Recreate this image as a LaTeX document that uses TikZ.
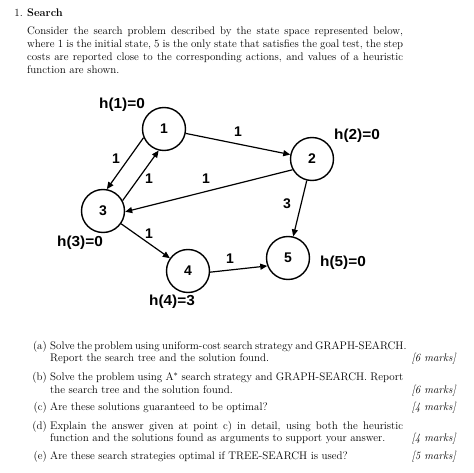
\documentclass[tikz,border=0pt]{standalone}
\usepackage{fontspec}
\usepackage{graphicx}
\newfontfamily\arial{Liberation Sans}
\usetikzlibrary{arrows.meta}
\begin{document}
\begin{tikzpicture}[x=1pt,y=-1pt,
  state/.style={circle, draw, line width=1.4pt, minimum size=43pt, inner sep=0pt,
    font=\arial\bfseries\fontsize{14}{14}\selectfont},
  edge/.style={line width=1.2pt, -{Triangle[length=7pt,width=6pt]}},
  hlab/.style={font=\arial\bfseries\fontsize{14.5}{14.5}\selectfont, inner sep=0pt},
  clab/.style={font=\arial\bfseries\fontsize{14}{14}\selectfont, inner sep=0pt},
  txt/.style={anchor=base west, inner sep=0pt, font=\fontsize{11}{13}\selectfont},
  lbl/.style={anchor=base east, inner sep=0pt, font=\fontsize{11}{13}\selectfont},
  mk/.style={anchor=base east, inner sep=0pt, font=\fontsize{11}{13}\selectfont\itshape}]
\useasboundingbox (0,0) rectangle (474,473);
% heading and intro
\node[lbl] (num) at (23,16.5) {1.};
\node[txt, font=\fontsize{11}{13}\selectfont\bfseries] (head) at (27,16.5) {Search};
\node[txt] (p1) at (27,35) {\makebox[376pt][s]{Consider the search problem described by the state space represented below,}};
\node[txt] (p2) at (27,48) {\makebox[376pt][s]{where 1 is the initial state, 5 is the only state that satisfies the goal test, the step}};
\node[txt] (p3) at (27,61) {\makebox[376pt][s]{costs are reported close to the corresponding actions, and values of a heuristic}};
\node[txt] (p4) at (27,74) {function are shown.};
% graph
\node[state] (n1) at (164,129) {1};
\node[state] (n2) at (312,159) {2};
\node[state] (n3) at (103,211) {3};
\node[state] (n4) at (188,271) {4};
\node[state] (n5) at (288,258) {5};
\draw[edge] (n1.203) -- (n3.80);
\draw[edge] (n3.28) -- (n1.256);
\draw[edge] (n1) -- (n2);
\draw[edge] (n2.209) -- (n3.358);
\draw[edge] (n2) -- (n5);
\draw[edge] (n3) -- (n4);
\draw[edge] (n4.357) -- (n5.201);
\node[clab] (l12) at (238,132) {1};
\node[clab] (l13) at (116,159) {1};
\node[clab] (l31) at (149,179) {1};
\node[clab] (l23) at (206,179) {1};
\node[clab] (l25) at (287,204) {3};
\node[clab] (l34) at (149,234) {1};
\node[clab] (l45) at (230,259) {1};
\node[hlab] (h1) at (122,105) {\scalebox{1.06}[1]{h(1)=0}};
\node[hlab] (h2) at (357,136) {\scalebox{1.06}[1]{h(2)=0}};
\node[hlab] (h3) at (80,243) {\scalebox{1.06}[1]{h(3)=0}};
\node[hlab] (h4) at (172,302) {\scalebox{1.06}[1]{h(4)=3}};
\node[hlab] (h5) at (343,263) {\scalebox{1.06}[1]{h(5)=0}};
% questions
\node[lbl] (qa) at (47,349) {(a)};
\node[txt] (qa1) at (50,349) {\makebox[353pt][s]{Solve the problem using uniform-cost search strategy and GRAPH-SEARCH.}};
\node[txt] (qa2) at (50,361) {Report the search tree and the solution found.};
\node[mk] (ma) at (456,361) {[6 marks]};
\node[lbl] (qb) at (47,380) {(b)};
\node[txt] (qb1) at (50,380) {\makebox[353pt][s]{Solve the problem using A$^*$ search strategy and GRAPH-SEARCH. Report}};
\node[txt] (qb2) at (50,393) {the search tree and the solution found.};
\node[mk] (mb) at (456,393) {[6 marks]};
\node[lbl] (qc) at (47,410) {(c)};
\node[txt] (qc1) at (50,410) {Are these solutions guaranteed to be optimal?};
\node[mk] (mc) at (456,410) {[4 marks]};
\node[lbl] (qd) at (47,429) {(d)};
\node[txt] (qd1) at (50,429) {\makebox[353pt][s]{Explain the answer given at point c) in detail, using both the heuristic}};
\node[txt] (qd2) at (50,441) {function and the solutions found as arguments to support your answer.};
\node[mk] (md) at (456,441) {[4 marks]};
\node[lbl] (qe) at (47,459) {(e)};
\node[txt] (qe1) at (50,459) {Are these search strategies optimal if TREE-SEARCH is used?};
\node[mk] (me) at (456,459) {[5 marks]};
\end{tikzpicture}
\end{document}
